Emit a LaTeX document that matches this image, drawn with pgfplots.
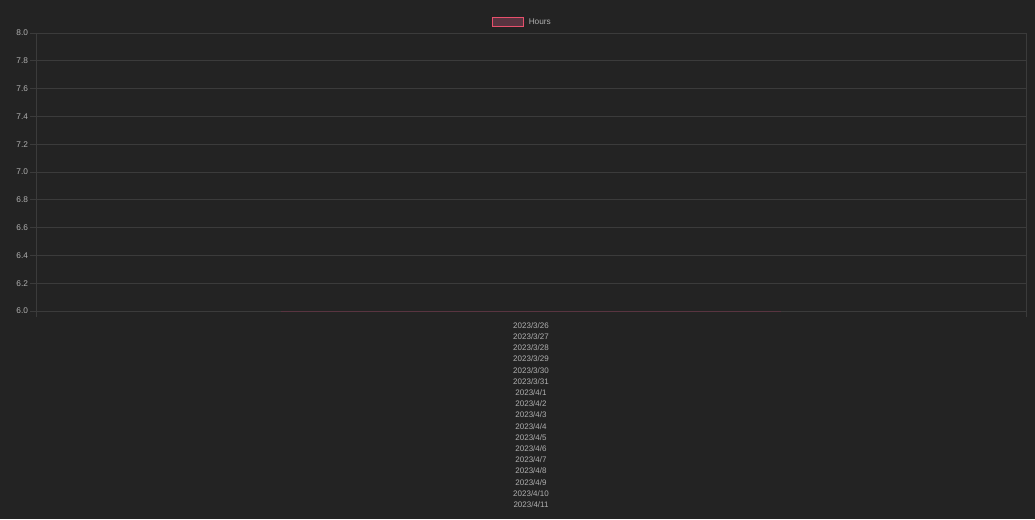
\documentclass[border=0pt]{standalone}
\usepackage{pgfplots}
\pgfplotsset{compat=1.18}
\usepackage{fontspec}
\setmainfont{Liberation Sans}

\definecolor{bgc}{HTML}{232323}
\definecolor{gridc}{HTML}{3B3B3B}
\definecolor{txtc}{HTML}{B0B0B0}
\definecolor{pinkb}{HTML}{E8506C}
\definecolor{pinkf}{HTML}{583440}

\begin{document}
\begin{tikzpicture}
  % canvas: 1035 x 519, axis box from (36,33) to (1026,311) in pixel terms
  \fill[bgc] (-36pt,-208pt) rectangle (999pt,311pt);
  \begin{axis}[
      at={(0pt,0pt)}, anchor=south west,
      scale only axis,
      width=990pt, height=278pt,
      xmin=-0.5, xmax=0.5,
      ymin=6, ymax=8,
      ytick distance=0.2,
      xtick pos=bottom, ytick pos=left,
      xtick={0},
      xticklabels={{2023/3/26\\2023/3/27\\2023/3/28\\2023/3/29\\2023/3/30\\2023/3/31\\2023/4/1\\2023/4/2\\2023/4/3\\2023/4/4\\2023/4/5\\2023/4/6\\2023/4/7\\2023/4/8\\2023/4/9\\2023/4/10\\2023/4/11}},
      xticklabel style={align=center, font=\fontsize{8}{11.2}\selectfont, text=txtc, anchor=north, yshift=-2pt},
      yticklabel style={font=\fontsize{8.3}{9.6}\selectfont, text=txtc, xshift=1.5pt},
      /pgf/number format/assume math mode=true,
      yticklabel={\pgfmathprintnumber[fixed, fixed zerofill, precision=1]{\tick}},
      axis line style={draw=gridc, line width=0.8pt},
      ymajorgrids,
      grid style={draw=gridc, line width=0.8pt},
      major y tick style={draw=gridc, line width=0.8pt},
      major x tick style={draw=none},
      tick align=outside,
      major tick length=6pt,
      extra x ticks={-0.5,0.5},
      extra x tick labels={},
      extra x tick style={major x tick style={draw=gridc, line width=0.8pt}, xmajorgrids, grid style={draw=gridc, line width=0.8pt}},
      legend style={draw=none, fill=none, at={(0.4915,1.038)}, anchor=center,
                    font=\fontsize{8.3}{9.6}\selectfont, text=txtc},
      legend image code/.code={
        \draw[draw=pinkb, fill=pinkf, line width=0.9pt] (0pt,-3.5pt) rectangle (31pt,5.5pt);
        \path (0pt,0pt) -- (34pt,0pt);},
    ]
    \addplot[ybar, bar width=500pt, draw=none, fill=pinkf] coordinates {(0,5.5)};
    \addlegendentry{Hours}
  \end{axis}
\end{tikzpicture}
\end{document}
